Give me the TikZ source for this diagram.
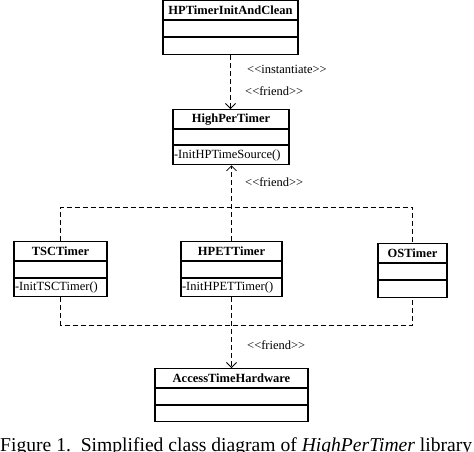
\documentclass[tikz,border=0pt]{standalone}
\usepackage{fontspec}
\setmainfont{Liberation Serif}[Ligatures=TeXOff]
\usepackage{tikz}
\usetikzlibrary{arrows.meta, positioning}
\tikzstyle{classhead} = [draw, line width=1.1pt, font=\fontsize{12.5}{14}\selectfont\bfseries, minimum height=19pt, inner sep=0pt, anchor=north]
\tikzstyle{classrow} = [draw, line width=1.1pt, font=\fontsize{12.5}{14}\selectfont, inner xsep=1pt, inner ysep=0pt, anchor=north, align=left]
\tikzstyle{dep} = [line width=0.8pt, dash pattern=on 5pt off 3pt]
\tikzstyle{arrow} = [dep, -{Straight Barb[length=5pt,width=10pt]}]
\tikzstyle{lbl} = [font=\fontsize{12.5}{14}\selectfont, inner sep=0pt, anchor=west]

\begin{document}
\begin{tikzpicture}[x=1pt, y=-1pt]
\useasboundingbox (0,0) rectangle (474,451);

% Classes
\node[classhead, minimum width=135pt] (hpinit) at (230.5,0) {HPTimerInitAndClean};
\node[classrow, text width=133pt, minimum height=16pt] (hpinit-a) at (hpinit.south) {};
\node[classrow, text width=133pt, minimum height=17pt] (hpinit-b) at (hpinit-a.south) {};

\node[classhead, minimum width=116pt] (hpt) at (231,109) {HighPerTimer};
\node[classrow, text width=114pt, minimum height=15pt] (hpt-a) at (hpt.south) {};
\node[classrow, text width=114pt, minimum height=19pt] (hpt-b) at (hpt-a.south) {-InitHPTimeSource()};

\node[classhead, minimum width=93pt] (tsc) at (60.5,241) {TSCTimer};
\node[classrow, text width=91pt, minimum height=16pt] (tsc-a) at (tsc.south) {};
\node[classrow, text width=91pt, minimum height=18pt] (tsc-b) at (tsc-a.south) {-InitTSCTimer()};

\node[classhead, minimum width=101pt] (hpet) at (231.5,241) {HPETTimer};
\node[classrow, text width=99pt, minimum height=16pt] (hpet-a) at (hpet.south) {};
\node[classrow, text width=99pt, minimum height=18pt] (hpet-b) at (hpet-a.south) {-InitHPETTimer()};

\node[classhead, minimum width=69pt] (os) at (412.5,243) {OSTimer};
\node[classrow, text width=67pt, minimum height=16pt] (os-a) at (os.south) {};
\node[classrow, text width=67pt, minimum height=17pt] (os-b) at (os-a.south) {};

\node[classhead, minimum width=153pt] (ath) at (231.5,368) {AccessTimeHardware};
\node[classrow, text width=151pt, minimum height=16pt] (ath-a) at (ath.south) {};
\node[classrow, text width=151pt, minimum height=16pt] (ath-b) at (ath-a.south) {};

% Buses
\coordinate (bustop) at (231,207);
\coordinate (busbot) at (231,325);

% Dependencies
\draw [arrow] (hpinit-b.south) -- (hpinit-b.south |- hpt.north);
\draw [dep] (tsc.north) -- (tsc.north |- bustop) -- (os.north |- bustop) -- (os.north);
\draw [arrow] (hpet.north) -- (hpet.north |- hpt-b.south);
\draw [dep] (tsc-b.south) -- (tsc-b.south |- busbot) -- (os-b.south |- busbot) -- (os-b.south);
\draw [arrow] (hpet-b.south) -- (ath.north);

% Labels
\node[lbl] (linst) at (247,69) {<<instantiate>>};
\node[lbl] (lfr1) at (245,91) {<<friend>>};
\node[lbl] (lfr2) at (245,182) {<<friend>>};
\node[lbl] (lfr3) at (247,345) {<<friend>>};

% Caption
\node[anchor=base west, inner sep=0pt, font=\fontsize{19.6}{22}\selectfont] (caption) at (0,451) {Figure 1.\ \ Simplified class diagram of \textit{HighPerTimer} library};

\end{tikzpicture}
\end{document}
